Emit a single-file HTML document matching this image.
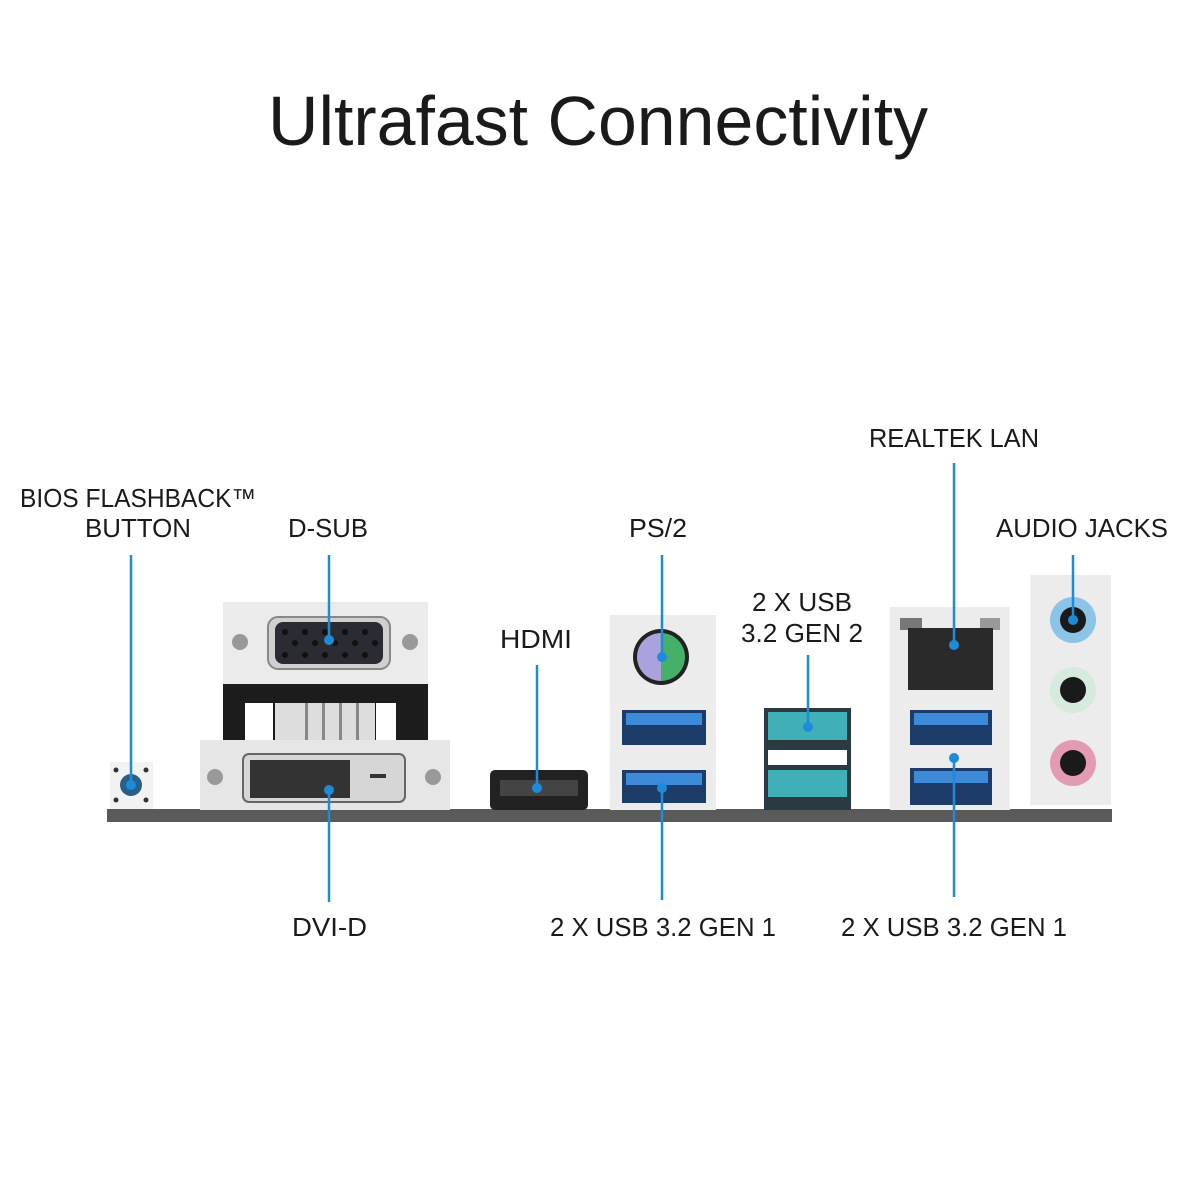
<!DOCTYPE html>
<html><head><meta charset="utf-8"><style>
html,body{margin:0;padding:0;background:#fff;}
svg{display:block;}
text{font-family:"Liberation Sans",sans-serif;fill:#1a1a1a;}
</style></head><body>
<svg width="1200" height="1200" viewBox="0 0 1200 1200" xmlns="http://www.w3.org/2000/svg">
<rect width="1200" height="1200" fill="#fff"/>
<text x="268" y="145" font-size="70" textLength="660" lengthAdjust="spacingAndGlyphs">Ultrafast Connectivity</text>

<!-- labels -->
<g font-size="26">
<text x="20" y="507" textLength="236" lengthAdjust="spacingAndGlyphs">BIOS FLASHBACK™</text>
<text x="85" y="537" textLength="106" lengthAdjust="spacingAndGlyphs">BUTTON</text>
<text x="288" y="537" textLength="80" lengthAdjust="spacingAndGlyphs">D-SUB</text>
<text x="500" y="648" textLength="72" lengthAdjust="spacingAndGlyphs">HDMI</text>
<text x="629" y="537" textLength="58" lengthAdjust="spacingAndGlyphs">PS/2</text>
<text x="752" y="611" textLength="100" lengthAdjust="spacingAndGlyphs">2 X USB</text>
<text x="741" y="642" textLength="122" lengthAdjust="spacingAndGlyphs">3.2 GEN 2</text>
<text x="869" y="447" textLength="170" lengthAdjust="spacingAndGlyphs">REALTEK LAN</text>
<text x="996" y="537" textLength="172" lengthAdjust="spacingAndGlyphs">AUDIO JACKS</text>
<text x="292" y="936" textLength="75" lengthAdjust="spacingAndGlyphs">DVI-D</text>
<text x="550" y="936" textLength="226" lengthAdjust="spacingAndGlyphs">2 X USB 3.2 GEN 1</text>
<text x="841" y="936" textLength="226" lengthAdjust="spacingAndGlyphs">2 X USB 3.2 GEN 1</text>
</g>

<!-- base plate -->
<rect x="107" y="809" width="1005" height="13" fill="#5a5a5a"/>

<!-- button -->
<rect x="110" y="762" width="43" height="47" fill="#f2f2f2"/>
<circle cx="131" cy="785" r="11" fill="#2a5f8a"/>
<circle cx="116" cy="770" r="2.5" fill="#333"/><circle cx="146" cy="770" r="2.5" fill="#333"/>
<circle cx="116" cy="800" r="2.5" fill="#333"/><circle cx="146" cy="800" r="2.5" fill="#333"/>

<!-- D-SUB -->
<rect x="223" y="602" width="205" height="82" fill="#ebebeb"/>
<rect x="268" y="617" width="122" height="52" rx="10" fill="#d0d0d0" stroke="#888" stroke-width="2"/>
<rect x="275" y="622" width="108" height="42" rx="8" fill="#2b2b33"/>
<g fill="#111">
<circle cx="285" cy="632" r="3"/><circle cx="305" cy="632" r="3"/><circle cx="325" cy="632" r="3"/><circle cx="345" cy="632" r="3"/><circle cx="365" cy="632" r="3"/>
<circle cx="295" cy="643" r="3"/><circle cx="315" cy="643" r="3"/><circle cx="335" cy="643" r="3"/><circle cx="355" cy="643" r="3"/><circle cx="375" cy="643" r="3"/>
<circle cx="285" cy="655" r="3"/><circle cx="305" cy="655" r="3"/><circle cx="325" cy="655" r="3"/><circle cx="345" cy="655" r="3"/><circle cx="365" cy="655" r="3"/>
</g>
<circle cx="240" cy="642" r="8" fill="#999"/><circle cx="410" cy="642" r="8" fill="#999"/>
<rect x="223" y="684" width="205" height="58" fill="#1c1c1c"/>
<rect x="245" y="703" width="28" height="37" fill="#fff"/>
<rect x="275" y="703" width="100" height="37" fill="#ddd"/>
<g fill="#888"><rect x="305" y="703" width="3" height="37"/><rect x="322" y="703" width="3" height="37"/><rect x="339" y="703" width="3" height="37"/><rect x="356" y="703" width="3" height="37"/></g>
<rect x="376" y="703" width="20" height="37" fill="#fff"/>

<!-- DVI -->
<rect x="200" y="740" width="250" height="70" fill="#e6e6e6"/>
<rect x="243" y="754" width="162" height="48" rx="6" fill="#d6d6d6" stroke="#666" stroke-width="2"/>
<rect x="250" y="760" width="100" height="38" fill="#333"/>
<rect x="370" y="774" width="16" height="4" fill="#333"/>
<circle cx="215" cy="777" r="8" fill="#999"/><circle cx="433" cy="777" r="8" fill="#999"/>

<!-- HDMI -->
<rect x="490" y="770" width="98" height="40" rx="5" fill="#222"/>
<rect x="500" y="780" width="78" height="16" fill="#444"/>

<!-- PS/2 + USB -->
<rect x="610" y="615" width="106" height="195" fill="#ececec"/>
<circle cx="661" cy="657" r="28" fill="#222"/>
<path d="M661 633 A24 24 0 0 0 661 681 Z" fill="#a9a2dc"/>
<path d="M661 633 A24 24 0 0 1 661 681 Z" fill="#45b06a"/>
<rect x="622" y="710" width="84" height="35" fill="#1e3c6a"/><rect x="626" y="713" width="76" height="12" fill="#3d8ad8"/>
<rect x="622" y="770" width="84" height="33" fill="#1e3c6a"/><rect x="626" y="773" width="76" height="12" fill="#3d8ad8"/>

<!-- USB gen2 -->
<rect x="764" y="708" width="87" height="102" fill="#2a3a40"/>
<rect x="768" y="712" width="79" height="28" fill="#3fb0b8"/>
<rect x="768" y="750" width="79" height="15" fill="#fff"/>
<rect x="768" y="770" width="79" height="27" fill="#3fb0b8"/>

<!-- LAN -->
<rect x="890" y="607" width="120" height="203" fill="#ececec"/>
<rect x="900" y="618" width="22" height="12" fill="#777"/><rect x="980" y="618" width="20" height="12" fill="#999"/>
<rect x="908" y="628" width="85" height="62" fill="#2a2a2a"/>
<rect x="910" y="710" width="82" height="35" fill="#1e3c6a"/><rect x="914" y="713" width="74" height="12" fill="#3d8ad8"/>
<rect x="910" y="768" width="82" height="37" fill="#1e3c6a"/><rect x="914" y="771" width="74" height="12" fill="#3d8ad8"/>

<!-- audio -->
<rect x="1030" y="575" width="81" height="230" fill="#ececec"/>
<circle cx="1073" cy="620" r="23" fill="#8cc4e8"/><circle cx="1073" cy="620" r="13" fill="#1a1a1a"/>
<circle cx="1073" cy="690" r="23" fill="#d6ebdd"/><circle cx="1073" cy="690" r="13" fill="#1a1a1a"/>
<circle cx="1073" cy="763" r="23" fill="#e39ab3"/><circle cx="1073" cy="763" r="13" fill="#1a1a1a"/>

<!-- blue leader lines -->
<g stroke="#1e8bd8" stroke-width="2.5" fill="none">
<line x1="131" y1="555" x2="131" y2="785"/>
<line x1="329" y1="555" x2="329" y2="640"/>
<line x1="329" y1="790" x2="329" y2="902"/>
<line x1="537" y1="665" x2="537" y2="788"/>
<line x1="662" y1="555" x2="662" y2="657"/>
<line x1="662" y1="788" x2="662" y2="900"/>
<line x1="808" y1="655" x2="808" y2="727"/>
<line x1="954" y1="463" x2="954" y2="645"/>
<line x1="954" y1="758" x2="954" y2="897"/>
<line x1="1073" y1="555" x2="1073" y2="620"/>
</g>
<g fill="#1e8bd8">
<circle cx="131" cy="785" r="5"/><circle cx="329" cy="640" r="5"/><circle cx="329" cy="790" r="5"/>
<circle cx="537" cy="788" r="5"/><circle cx="662" cy="657" r="5"/><circle cx="662" cy="788" r="5"/>
<circle cx="808" cy="727" r="5"/><circle cx="954" cy="645" r="5"/><circle cx="954" cy="758" r="5"/>
<circle cx="1073" cy="620" r="5"/>
</g>
</svg>
</body></html>
